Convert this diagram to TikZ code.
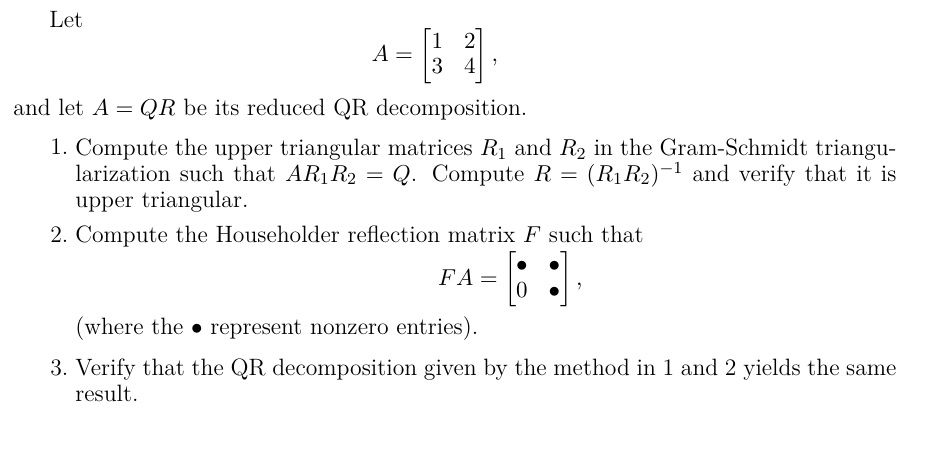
\documentclass[tikz,border=0pt]{standalone}
\usepackage{amsmath}
\begin{document}
\begin{tikzpicture}[x=1pt,y=1pt,
  every node/.style={font=\fontsize{11.26pt}{12.3pt}\selectfont},
  txt/.style={anchor=base west,inner sep=0pt},
  para/.style={anchor=north west,inner sep=0pt,text width=391pt,align=justify}]
\useasboundingbox (0,0) rectangle (441.4,-217.6);
\node[txt] (let) at (23.3,-12.9) {Let};
\node[inner sep=0pt] (A) at (207,-26.6) {$A=\begin{bmatrix}1&2\\3&4\end{bmatrix},$};
\node[txt] (and) at (6.2,-55.2) {and let $A=QR$ be its reduced QR decomposition.};
\node[txt] (n1) at (23.8,-73.8) {1.};
\node[para] (p1) at (35.7,-66.0) {Compute the upper triangular matrices $R_1$ and $R_2$ in the Gram-Schmidt triangu-\linebreak larization such that $AR_1R_2=Q$. Compute $R=(R_1R_2)^{-1}$ and verify that it is upper triangular.};
\node[txt] (n2) at (23.8,-115.7) {2.};
\node[txt] (p2) at (35.7,-115.7) {Compute the Householder reflection matrix $F$ such that};
\node[inner sep=0pt] (FA) at (243,-133) {$FA=\begin{bmatrix}\bullet&\bullet\\0&\bullet\end{bmatrix},$};
\node[txt] (w) at (35.7,-159.5) {(where the $\bullet$ represent nonzero entries).};
\node[txt] (n3) at (23.8,-178.6) {3.};
\node[para] (p3) at (35.7,-170.8) {Verify that the QR decomposition given by the method in 1 and 2 yields the same result.};
\end{tikzpicture}
\end{document}
